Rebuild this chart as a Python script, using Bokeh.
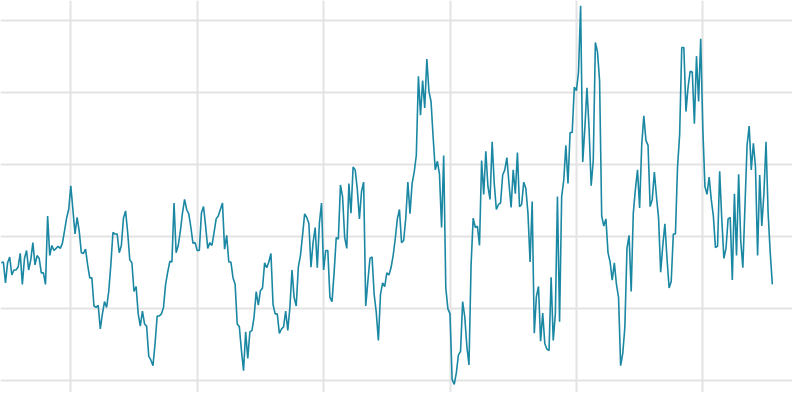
from bokeh.plotting import figure
from bokeh.models import Range1d, SingleIntervalTicker
from bokeh.embed import file_html
from bokeh.resources import INLINE

# series: one reading per time step, starting at step 27
start_step = 27
values = [
    16.3, 16.4, 13.5, 16.3, 17.1, 14.6, 15.3, 15.3, 15.7, 17.6,
    13.3, 16.9, 18.0, 15.3, 16.7, 19.1, 16.0, 17.3, 16.9, 14.9,
    14.9, 13.3, 22.8, 17.3, 18.7, 18.0, 18.3, 18.6, 18.3, 19.0,
    20.7, 22.5, 23.7, 27.0, 23.7, 20.3, 22.6, 20.7, 17.7, 17.6,
    18.2, 16.0, 14.2, 14.2, 10.3, 10.1, 10.4, 7.1, 9.2, 10.9,
    10.1, 12.3, 16.0, 20.5, 20.3, 20.3, 17.7, 18.7, 22.5, 23.5,
    20.5, 16.7, 16.3, 12.3, 13.0, 9.2, 7.5, 9.6, 7.8, 7.5,
    3.3, 2.8, 2.0, 5.1, 8.9, 8.9, 9.2, 10.1, 13.3, 15.0,
    16.5, 16.4, 24.6, 17.7, 18.7, 20.7, 23.2, 25.1, 23.7, 23.1,
    21.2, 19.0, 19.1, 18.0, 18.0, 23.2, 24.1, 21.4, 18.3, 19.1,
    18.7, 20.5, 22.4, 22.8, 23.7, 24.6, 18.2, 20.1, 16.4, 16.4,
    14.2, 13.3, 7.8, 7.4, 4.1, 1.3, 6.7, 3.0, 6.7, 6.9,
    8.8, 12.3, 10.4, 12.4, 12.8, 16.3, 15.6, 16.4, 17.6, 10.5,
    9.2, 9.2, 6.5, 7.1, 7.4, 9.6, 6.9, 10.1, 15.3, 11.5,
    10.3, 15.7, 17.3, 20.1, 23.1, 22.6, 21.8, 15.7, 19.1, 21.2,
    15.6, 21.8, 24.6, 15.3, 18.0, 18.0, 11.5, 10.9, 15.0, 19.8,
    19.6, 27.1, 25.5, 19.8, 18.3, 27.3, 23.2, 29.6, 29.2, 26.5,
    22.4, 26.2, 27.5, 10.3, 13.7, 16.9, 17.1, 11.9, 9.4, 5.5,
    11.9, 13.5, 13.0, 14.9, 14.6, 15.6, 17.3, 19.6, 22.4, 23.7,
    19.1, 19.4, 22.5, 27.5, 23.1, 27.3, 28.9, 31.2, 42.2, 36.8,
    41.6, 37.8, 44.6, 40.1, 38.7, 33.7, 29.2, 30.4, 28.6, 21.2,
    31.2, 12.8, 9.9, 9.2, 0.1, -0.6, 1.0, 3.5, 4.0, 10.9,
    8.8, 4.7, 2.1, 16.0, 22.5, 21.2, 21.4, 18.7, 30.5, 25.8,
    31.8, 26.9, 25.1, 33.1, 27.3, 23.7, 24.4, 24.6, 28.5, 29.2,
    30.9, 27.3, 24.0, 29.2, 25.9, 31.6, 24.1, 24.4, 27.5, 26.6,
    23.2, 16.4, 24.8, 6.5, 11.6, 13.0, 5.4, 9.3, 5.1, 4.3,
    4.1, 14.3, 5.5, 9.2, 25.5, 8.1, 25.5, 27.8, 32.6, 27.3,
    34.4, 34.4, 40.7, 40.2, 42.8, 52.0, 30.3, 35.0, 40.6, 35.0,
    27.0, 30.5, 46.9, 45.6, 41.6, 22.8, 21.4, 22.4, 17.7, 16.4,
    13.9, 16.3, 13.3, 11.5, 2.0, 3.7, 7.4, 18.3, 20.1, 12.3,
    23.2, 26.5, 29.2, 23.9, 32.7, 36.7, 33.3, 32.6, 24.1, 25.1,
    28.9, 25.5, 22.5, 15.0, 18.7, 21.7, 16.9, 12.8, 13.7, 20.3,
    20.3, 29.6, 34.1, 46.2, 46.2, 37.3, 40.7, 42.9, 42.8, 35.6,
    45.0, 38.7, 47.4, 35.0, 26.9, 25.8, 28.2, 25.1, 22.8, 18.4,
    18.6, 29.0, 22.4, 16.9, 18.3, 22.4, 22.6, 13.9, 25.9, 17.3,
    28.6, 19.4, 15.6, 24.1, 32.6, 35.3, 29.2, 32.9, 29.6, 17.3,
    28.5, 21.4, 25.9, 33.1, 23.2, 17.7, 13.3,
]
steps = list(range(start_step, start_step + len(values)))

p = figure(
    width=792, height=392,
    output_backend="svg", toolbar_location=None,
    x_range=Range1d(26.63, 402.57), y_range=Range1d(-1.72, 52.73),
    min_border=0, min_border_left=0, min_border_right=0,
    min_border_top=0, min_border_bottom=0,
)
p.xaxis.visible = False
p.yaxis.visible = False
p.outline_line_color = None
p.background_fill_color = "white"
p.border_fill_color = "white"

p.xgrid.ticker = SingleIntervalTicker(interval=60)
p.ygrid.ticker = SingleIntervalTicker(interval=10)
for g in (p.xgrid, p.ygrid):
    g.grid_line_color = "#e3e3e3"
    g.grid_line_width = 2

p.line(steps, values, line_color="#1a87a3", line_width=1.6)

open("out.html", "w").write(file_html(p, INLINE))
